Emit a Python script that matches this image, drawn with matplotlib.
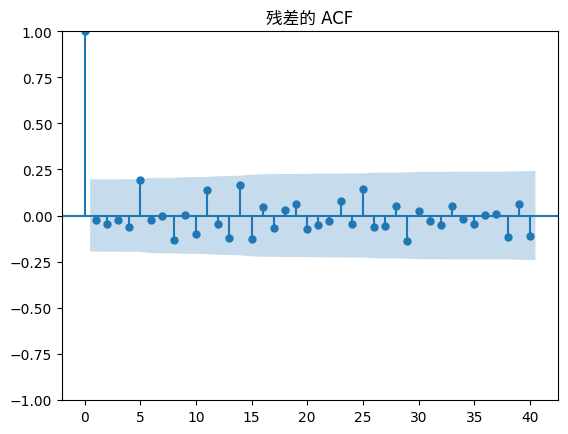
#!/usr/bin/env python3
import matplotlib
matplotlib.use('Agg')
import matplotlib.pyplot as plt
import numpy as np

# autocorrelation of residuals
lags = np.arange(41)
acf_values = [
    1.0, -0.024, -0.044, -0.027, -0.063, 0.19, -0.027, -0.005, -0.133, 0.003,
    -0.098, 0.14, -0.044, -0.122, 0.167, -0.127, 0.047, -0.067, 0.031, 0.06,
    -0.072, -0.049, -0.029, 0.076, -0.044, 0.145, -0.062, -0.058, 0.054, -0.138,
    0.025, -0.029, -0.049, 0.049, -0.018, -0.044, 0.003, 0.007, -0.116, 0.065,
    -0.11,
]
nobs = 100
title_text = '残差的 ACF'


def acf_plot():
    acf = np.array(acf_values)

    # Bartlett band, same way statsmodels builds it
    varacf = np.ones(len(acf)) / nobs
    varacf[0] = 0
    varacf[2:] *= 1 + 2 * np.cumsum(acf[1:-1] ** 2)
    band = 1.959964 * np.sqrt(varacf)

    fig = plt.figure(figsize=(5.68, 4.35), dpi=100)
    ax = fig.add_axes([62 / 568, 34 / 435, 496 / 568, 369 / 435])

    band_x = lags[1:].astype(float)
    band_x[0] -= 0.5
    band_x[-1] += 0.5
    ax.fill_between(band_x, -band[1:], band[1:], alpha=0.25, linewidth=0)

    ax.vlines(lags, [0], acf)
    ax.axhline()
    ax.plot(lags, acf, 'o', markersize=5, color='C0')

    ax.set_ylim(-1, 1)
    ax.set_title(title_text, family=['DejaVu Sans', 'Noto Sans CJK SC'])

    fig.savefig('out.png')
    plt.close(fig)


acf_plot()
